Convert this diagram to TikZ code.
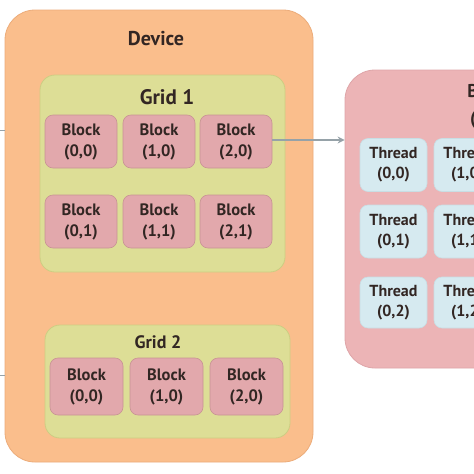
\documentclass[tikz,border=0pt]{standalone}
\usepackage{fontspec}
\setmainfont{PT Sans}
\usetikzlibrary{arrows.meta}
\definecolor{devfill}{RGB}{250,190,140}
\definecolor{devline}{RGB}{236,172,122}
\definecolor{gridfill}{RGB}{221,222,150}
\definecolor{gridline}{RGB}{205,205,130}
\definecolor{blkfill}{RGB}{226,168,172}
\definecolor{blkline}{RGB}{200,148,148}
\definecolor{bigfill}{RGB}{236,180,182}
\definecolor{bigline}{RGB}{222,165,168}
\definecolor{thrfill}{RGB}{214,234,240}
\definecolor{thrline}{RGB}{200,222,228}
\definecolor{txt}{RGB}{50,38,35}
\definecolor{conn}{RGB}{150,162,168}
\begin{document}
\begin{tikzpicture}[x=1pt,y=-1pt,
  every node/.style={text=txt,font=\bfseries},
  container/.style={draw=#1,line width=0.8pt,rounded corners=15pt},
  blockbox/.style={draw=blkline,fill=blkfill,line width=0.6pt,rounded corners=8pt,
    minimum width=72pt,minimum height=53pt,align=center,font=\bfseries\fontsize{16.5}{21}\selectfont,inner sep=0pt},
  threadbox/.style={draw=thrline,fill=thrfill,line width=0.6pt,rounded corners=8pt,
    minimum width=67pt,minimum height=53pt,align=center,font=\bfseries\fontsize{16}{20}\selectfont,inner sep=0pt},
  connector/.style={draw=conn,line width=1.4pt}]
\useasboundingbox (0,0) rectangle (474,474);
\clip (0,0) rectangle (474,474);
\fill[white] (0,0) rectangle (474,474);
% Device
\node[container=devline,fill=devfill,rounded corners=30pt,minimum width=308pt,minimum height=452pt,inner sep=0pt] (device) at (159,236) {};
\node[font=\bfseries\fontsize{20}{24}\selectfont] (devtitle) at (156,39) {Device};
% Grid 1
\node[container=gridline,fill=gridfill,minimum width=245pt,minimum height=197pt,inner sep=0pt] (grid1) at (162.5,173.5) {};
\node[font=\bfseries\fontsize{21}{24}\selectfont] (g1title) at (167,97) {Grid 1};
\node[blockbox] (b00) at (81,141.5) {Block\\(0,0)};
\node[blockbox] (b10) at (159,141.5) {Block\\(1,0)};
\node[blockbox] (b20) at (236,141.5) {Block\\(2,0)};
\node[blockbox] (b01) at (81,221.5) {Block\\(0,1)};
\node[blockbox] (b11) at (159,221.5) {Block\\(1,1)};
\node[blockbox] (b21) at (236,221.5) {Block\\(2,1)};
% Grid 2
\node[container=gridline,fill=gridfill,minimum width=245pt,minimum height=113pt,inner sep=0pt] (grid2) at (167.5,381.5) {};
\node[font=\bfseries\fontsize{18}{22}\selectfont] (g2title) at (158,342) {Grid 2};
\node[blockbox,minimum width=73pt,minimum height=57pt] (c00) at (86.5,386.5) {Block\\(0,0)};
\node[blockbox,minimum width=73pt,minimum height=57pt] (c10) at (166.5,386.5) {Block\\(1,0)};
\node[blockbox,minimum width=73pt,minimum height=57pt] (c20) at (246.5,386.5) {Block\\(2,0)};
% Block (2,0) detail
\node[container=bigline,fill=bigfill,rounded corners=30pt,minimum width=260pt,minimum height=298pt,inner sep=0pt] (big) at (475,219) {};
\node[align=center,font=\bfseries\fontsize{18.5}{27}\selectfont] (bigtitle) at (489,106) {Block\\(2,0)};
\node[threadbox] (t00) at (393.5,165) {Thread\\(0,0)};
\node[threadbox] (t10) at (467.5,165) {Thread\\(1,0)};
\node[threadbox] (t01) at (393.5,231.5) {Thread\\(0,1)};
\node[threadbox] (t11) at (467.5,231.5) {Thread\\(1,1)};
\node[threadbox,minimum height=51pt] (t02) at (393.5,302.5) {Thread\\(0,2)};
\node[threadbox,minimum height=51pt] (t12) at (467.5,302.5) {Thread\\(1,2)};
% connectors
\draw[connector,-{Stealth[length=7pt,width=7pt]}] (b20.east |- 0,140) -- (big.west |- 0,140);
\coordinate (in1) at (-5,130);
\coordinate (in2) at (-5,375);
\draw[connector,line width=1pt] (in1) -- (in1 -| device.west);
\draw[connector,line width=1pt] (in2) -- (in2 -| device.west);
\end{tikzpicture}
\end{document}
